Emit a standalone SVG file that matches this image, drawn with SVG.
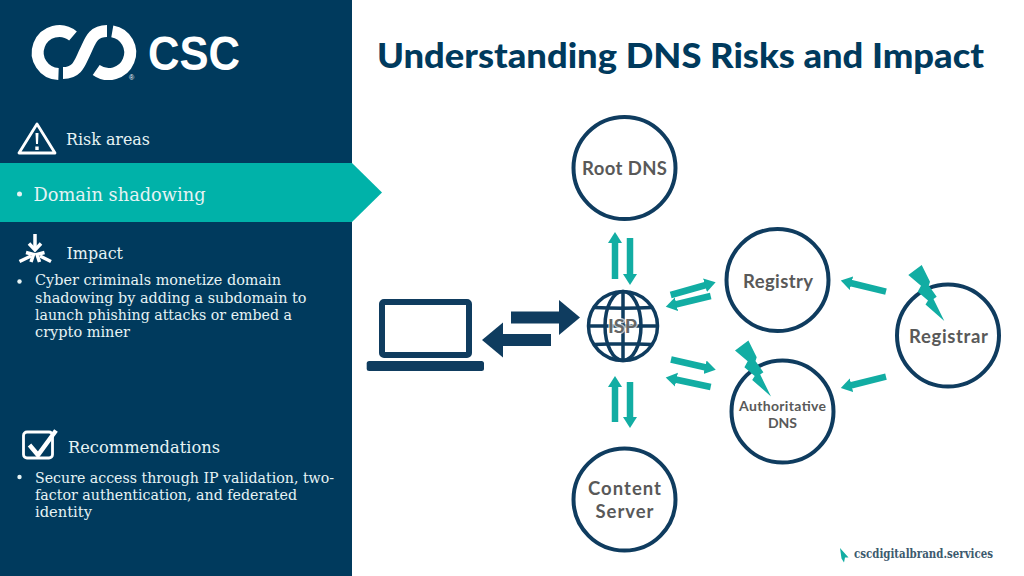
<svg xmlns="http://www.w3.org/2000/svg" xmlns:xlink="http://www.w3.org/1999/xlink" width="1024" height="576" viewBox="0 0 1024 576">
<style>
.serif{font-family:"DejaVu Serif","Liberation Serif",serif;fill:#e6f3f4}
.h{font-size:16.500px}
.b{font-size:14.500px}
.node{fill:#fff;stroke:#0f3c5f;stroke-width:4}
.lbl{font-family:"Lato","Open Sans",sans-serif;font-weight:700;fill:#595959;text-anchor:middle}
.t{fill:none;stroke:#12ada3;stroke-width:6.5;marker-end:url(#th)}
.n{fill:none;stroke:#0f3c5f;stroke-width:12;marker-end:url(#nh)}
.g{fill:none;stroke:#0f3c5f;stroke-width:3.5}
.w{fill:none;stroke:#fff}
</style>
<defs>
<marker id="th" markerUnits="userSpaceOnUse" markerWidth="12" markerHeight="16" refX="1" refY="8" orient="auto"><path d="M0 1L11 8L0 15z" fill="#12ada3"/></marker>
<marker id="nh" markerUnits="userSpaceOnUse" markerWidth="22" markerHeight="36" refX="1" refY="18" orient="auto"><path d="M0 0.5L21 18L0 35.500z" fill="#0f3c5f"/></marker>
<path id="bolt" d="M908.300 275L921.700 265L930 281.700L928.800 285.500L936.700 296.700L933.500 299L944.300 321L925.500 304.500L928 300.500L917.700 291.700L921 285.700z" fill="#12ada3"/>
</defs>
<rect width="1024" height="576" fill="#fff"/>
<g id="panel">
<rect width="352" height="576" fill="#003a5d"/>
<path d="M0 163H352L382 192.500L352 222H0z" fill="#00b2a9"/>
</g>
<g id="logo">
<g class="w" stroke-width="12">
<path d="M73 36A21.500 21.500 0 1 0 58.500 74"/>
<path d="M63 73C78 73 80 62 85 52C90 42 92 31 107 31"/>
<path d="M112.300 31.300A21.500 21.500 0 1 1 96.200 70"/>
</g>
<text x="148" y="70" textLength="92" lengthAdjust="spacingAndGlyphs" style="font-family:'Liberation Sans',Arial,sans-serif;font-weight:700;font-size:48px;fill:#fff">CSC</text>
<text x="129" y="80" style="font-family:'Liberation Sans',Arial,sans-serif;font-size:7px;fill:#fff">®</text>
</g>
<text id="title" x="377" y="68" textLength="607" lengthAdjust="spacingAndGlyphs" style="font-family:'Lato','Open Sans',sans-serif;font-weight:900;font-size:35px;fill:#003a5d">Understanding DNS Risks and Impact</text>
<g id="risk-areas">
<path class="w" stroke-width="2.800" stroke-linejoin="round" d="M37 124L55 153H19z"/>
<path d="M35.500 133H38.500L38 144H36z M35.300 146.500h3.400v3.400h-3.400z" fill="#fff"/>
<text class="serif h" x="66" y="145" textLength="84" lengthAdjust="spacingAndGlyphs">Risk areas</text>
</g>
<g id="domain-shadowing">
<circle cx="19.500" cy="194" r="2.500" fill="#e6f3f4"/>
<text class="serif" x="33.500" y="201" textLength="172" lengthAdjust="spacingAndGlyphs" style="font-size:18.500px">Domain shadowing</text>
</g>
<g id="impact">
<g class="w" stroke-width="3.500">
<path d="M35 234V249"/><path d="M29 243.500L35 250L41 243.500"/>
<path d="M19.500 261.500L31 256"/><path d="M26 252.500L33.500 254.500L31 262"/>
<path d="M51 261.500L40 256"/><path d="M44.500 252.500L37 254.500L39.500 262"/>
</g>
<text class="serif h" x="66.500" y="259" textLength="56.500" lengthAdjust="spacingAndGlyphs">Impact</text>
<circle cx="19.500" cy="281.500" r="2.200" fill="#e6f3f4"/>
<text class="serif b" x="35" y="285" textLength="246" lengthAdjust="spacingAndGlyphs">Cyber criminals monetize domain</text>
<text class="serif b" x="35" y="302.500" textLength="271.500" lengthAdjust="spacingAndGlyphs">shadowing by adding a subdomain to</text>
<text class="serif b" x="35" y="320" textLength="257" lengthAdjust="spacingAndGlyphs">launch phishing attacks or embed a</text>
<text class="serif b" x="35" y="337" textLength="95" lengthAdjust="spacingAndGlyphs">crypto miner</text>
</g>
<g id="recommendations">
<rect class="w" x="23.500" y="432" width="29" height="26" rx="3.500" stroke-width="2.800"/>
<path class="w" stroke-width="4.500" d="M29.500 445L38 455L56 430.500"/>
<text class="serif h" x="68" y="453" textLength="152" lengthAdjust="spacingAndGlyphs">Recommendations</text>
<circle cx="19.500" cy="477" r="2.200" fill="#e6f3f4"/>
<text class="serif b" x="35" y="483" textLength="299" lengthAdjust="spacingAndGlyphs">Secure access through IP validation, two-</text>
<text class="serif b" x="35" y="500" textLength="262" lengthAdjust="spacingAndGlyphs">factor authentication, and federated</text>
<text class="serif b" x="35" y="517" textLength="57" lengthAdjust="spacingAndGlyphs">identity</text>
</g>
<g id="connectors">
<path class="n" d="M511 317.500H560"/>
<path class="n" d="M551 340H502"/>
<path class="t" d="M615 279V242"/>
<path class="t" d="M630 238V275"/>
<path class="t" d="M670.700 295L706 285"/>
<path class="t" d="M710.700 296L675.500 304.500"/>
<path class="t" d="M671 359.500L706 367.500"/>
<path class="t" d="M710.700 387L675.500 379.500"/>
<path class="t" d="M615 422V386"/>
<path class="t" d="M630 382V418"/>
<path class="t" d="M886 291.700L850.500 283"/>
<path class="t" d="M886 376.700L850.500 385.500"/>
</g>
<g id="laptop">
<rect x="382" y="302" width="87" height="53" rx="2" fill="none" stroke="#0f3c5f" stroke-width="6"/>
<rect x="366.700" y="361" width="117.300" height="10" rx="2.500" fill="#0f3c5f"/>
</g>
<g id="isp">
<circle class="g" cx="623" cy="326" r="34.500"/>
<ellipse class="g" cx="623" cy="326" rx="18" ry="34.500"/>
<path class="g" d="M623 291.500V361M588.500 326H657.500M594 307.500Q623 309 652 307.500M594 344.500Q623 343 652 344.500"/>
<text class="lbl" x="622.500" y="333" textLength="29" lengthAdjust="spacingAndGlyphs" style="font-size:18.500px;fill:#666;stroke:#fff;stroke-width:2.500;stroke-opacity:.7;paint-order:stroke">ISP</text>
</g>
<g id="root-dns">
<circle class="node" cx="624.500" cy="168" r="51"/>
<text class="lbl" x="624.500" y="175" textLength="85" style="font-size:18.500px">Root DNS</text>
</g>
<g id="registry">
<circle class="node" cx="777.500" cy="280" r="51"/>
<text class="lbl" x="778" y="288" textLength="70" style="font-size:18.500px">Registry</text>
</g>
<g id="authoritative-dns">
<circle class="node" cx="782.500" cy="411.500" r="51"/>
<text class="lbl" x="782.500" y="411" textLength="87" style="font-size:14px">Authoritative</text>
<text class="lbl" x="782.500" y="428" style="font-size:14px">DNS</text>
</g>
<g id="registrar">
<circle class="node" cx="948" cy="335.500" r="51"/>
<text class="lbl" x="948.500" y="343" textLength="79" style="font-size:18.500px">Registrar</text>
</g>
<g id="content-server">
<circle class="node" cx="624.500" cy="499.500" r="51"/>
<text class="lbl" x="624.500" y="495" textLength="73" style="font-size:18.500px">Content</text>
<text class="lbl" x="624.500" y="518" textLength="58" style="font-size:18.500px">Server</text>
</g>
<g id="bolts">
<use href="#bolt" xlink:href="#bolt"/>
<use href="#bolt" xlink:href="#bolt" transform="translate(-173.300 75.500)"/>
</g>
<g id="footer">
<path d="M840 548L848.500 557.500L845 557.500L844 562.500L841.500 558.500z" fill="#12ada3"/>
<text x="854" y="558" textLength="139" lengthAdjust="spacingAndGlyphs" style="font-family:'DejaVu Serif',serif;font-size:12.500px;font-weight:700;fill:#3d5a6e">cscdigitalbrand.services</text>
</g>
</svg>
